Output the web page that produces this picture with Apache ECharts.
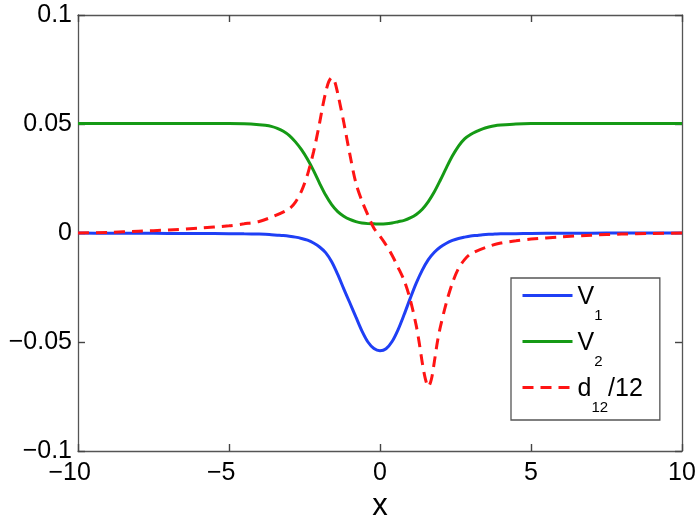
<!DOCTYPE html>
<html>
<head>
<meta charset="utf-8">
<script src="https://cdn.jsdelivr.net/npm/echarts@6/dist/echarts.min.js"></script>
<style>
html,body{margin:0;padding:0;background:#fff;}
#chart{width:700px;height:520px;}
</style>
</head>
<body>
<div id="chart"></div>
<script>
// Shared x grid for V1 and V2
var xGrid = [-10,-9,-8,-7,-6,-5,-4.5,
  -4,-3.8,-3.6,-3.4,-3.2,-3,-2.8,-2.6,-2.4,-2.2,-2,-1.8,-1.6,-1.4,-1.2,-1,-0.8,-0.6,-0.4,-0.2,
  0,0.2,0.4,0.6,0.8,1,1.2,1.4,1.6,1.8,2,2.2,2.4,2.6,2.8,3,3.2,3.4,3.6,3.8,4,
  4.5,5,6,7,8,9,10];
var v1 = [0,-0.0001,-0.0001,-0.0002,-0.0002,-0.0003,-0.0004,
  -0.0005,-0.0006,-0.0008,-0.0010,-0.0012,-0.0015,-0.0019,-0.0025,-0.0033,-0.0046,-0.0064,-0.0090,-0.0132,-0.0190,-0.0256,-0.0320,-0.0385,-0.0449,-0.0500,-0.0530,
  -0.0540,-0.0531,-0.0498,-0.0443,-0.0374,-0.0300,-0.0230,-0.0170,-0.0122,-0.0088,-0.0064,-0.0047,-0.0034,-0.0025,-0.0019,-0.0014,-0.0011,-0.0008,-0.0006,-0.0005,-0.0004,
  -0.0003,-0.0002,-0.0001,-0.0001,0,0,0];
var v2 = [0.0502,0.0502,0.0502,0.0502,0.0502,0.0502,0.0501,
  0.0497,0.0494,0.0489,0.0480,0.0467,0.0447,0.0418,0.0382,0.0338,0.0286,0.0228,0.0174,0.0130,0.0098,0.0077,0.0062,0.0052,0.0046,0.0043,0.0042,
  0.0041,0.0042,0.0046,0.0052,0.0058,0.0069,0.0085,0.0109,0.0144,0.0189,0.0243,0.0300,0.0354,0.0399,0.0432,0.0452,0.0466,0.0478,0.0486,0.0492,0.0495,
  0.0500,0.0502,0.0502,0.0502,0.0502,0.0502,0.0502];
// d12/12 on its own x grid
var dX = [-10,-9,-8,-7,-6,-5,-4.5,-4,-3.5,-3,-2.8,-2.6,-2.4,-2.2,-2.0,-1.9,-1.8,-1.7,-1.6,-1.5,-1.4,-1.3,-1.2,-1.0,-0.8,-0.6,-0.4,-0.2,0,0.2,0.4,0.6,0.8,1.0,1.2,1.3,1.4,1.5,1.6,1.7,1.8,1.9,2.0,2.2,2.4,2.6,2.8,3.0,3.5,4,4.5,5,6,7,8,9,10];
var d12 = [0,0.0003,0.0008,0.0014,0.0022,0.0033,0.0042,0.0053,0.0078,0.0112,0.0142,0.0192,0.0268,0.0372,0.0505,0.0580,0.0645,0.0693,0.0713,0.0695,0.0640,0.0575,0.0508,0.0362,0.0230,0.0148,0.0082,0.0022,-0.0015,-0.0055,-0.0102,-0.0158,-0.0218,-0.0305,-0.0425,-0.0505,-0.0595,-0.0668,-0.0705,-0.0672,-0.0590,-0.0500,-0.0430,-0.0318,-0.0228,-0.0162,-0.0122,-0.0096,-0.0066,-0.0046,-0.0036,-0.0028,-0.0018,-0.0010,-0.0005,-0.0002,0];

var seriesNames = ['V1', 'V2', 'd12'];
var legendLabels = {
  V1: '{m|V}{s|1}',
  V2: '{m|V}{s|2}',
  d12: '{m|d}{s|12}{m|/12}'
};

function pairs(xs, ys) { return xs.map(function (x, i) { return [x, ys[i]]; }); }
function fmt(v) {
  var r = Math.round(v * 1000) / 1000;
  return String(r).replace('-', '\u2212');
}
// negative x labels: digits centred on the tick, minus hanging to the left
function fmtX(v) {
  var s = fmt(v);
  if (v < 0) return '{n' + s.length + '|' + s + '}';
  return s;
}

var FONT = '"Liberation Sans", Arial, Helvetica, sans-serif';
var AX = '#555555';

var chart = echarts.init(document.getElementById('chart'), null, {renderer: 'canvas'});
function axisCommon() {
  return {
    axisLine: {show: true, onZero: false, lineStyle: {color: AX, width: 1.3}},
    axisTick: {show: true, inside: true, length: 7, lineStyle: {color: '#444444', width: 1.4}},
    splitLine: {show: false}
  };
}
chart.setOption({
  animation: false,
  backgroundColor: '#ffffff',
  grid: {left: 78, right: 18, top: 15, bottom: 69, containLabel: false, outerBoundsMode: 'none'},
  xAxis: [
    Object.assign({
      type: 'value', min: -10, max: 10, interval: 5, position: 'bottom',
      name: 'x', nameLocation: 'middle', nameGap: 39,
      nameTextStyle: {fontSize: 31, color: '#000', fontFamily: FONT},
      axisLabel: {fontSize: 25, color: '#000', fontFamily: FONT, margin: 10, formatter: fmtX,
        rich: {
          n2: {fontSize: 25, color: '#000', fontFamily: FONT, width: 44, align: 'left'},
          n3: {fontSize: 25, color: '#000', fontFamily: FONT, width: 59, align: 'left'}
        }}
    }, axisCommon()),
    Object.assign({
      type: 'value', min: -10, max: 10, interval: 5, position: 'top',
      axisLabel: {show: false}
    }, axisCommon())
  ],
  yAxis: [
    Object.assign({
      type: 'value', min: -0.1, max: 0.1, interval: 0.05, position: 'left',
      name: 'E', nameLocation: 'middle', nameGap: 55,
      nameTextStyle: {fontSize: 31, color: '#000', fontFamily: FONT},
      axisLabel: {fontSize: 25, color: '#000', fontFamily: FONT, margin: 6, formatter: fmt}
    }, axisCommon()),
    Object.assign({
      type: 'value', min: -0.1, max: 0.1, interval: 0.05, position: 'right',
      axisLabel: {show: false}
    }, axisCommon())
  ],
  legend: {
    data: seriesNames,
    orient: 'vertical',
    left: 511, top: 278,
    padding: [5, 17, 5, 10],
    itemGap: 6,
    itemWidth: 50, itemHeight: 3,
    borderColor: AX, borderWidth: 1.3, borderRadius: 0,
    backgroundColor: '#ffffff',
    itemStyle: {opacity: 0},
    lineStyle: {width: 3},
    formatter: function (name) { return legendLabels[name]; },
    textStyle: {
      fontFamily: FONT, color: '#000',
      rich: {
        m: {fontSize: 25, fontFamily: FONT, color: '#000', lineHeight: 25, padding: [2, 0, 0, 0], verticalAlign: 'top'},
        s: {fontSize: 15, fontFamily: FONT, color: '#000', lineHeight: 14, padding: [25, 0, 0, 0], verticalAlign: 'top'}
      }
    }
  },
  series: [
    {name: 'V1', type: 'line', data: pairs(xGrid, v1), smooth: 0.3, symbol: 'none',
     lineStyle: {color: '#1f3ff5', width: 3}, itemStyle: {color: '#1f3ff5'}},
    {name: 'V2', type: 'line', data: pairs(xGrid, v2), smooth: 0.3, symbol: 'none',
     lineStyle: {color: '#159a15', width: 3}, itemStyle: {color: '#159a15'}},
    {name: 'd12', type: 'line', data: pairs(dX, d12), smooth: 0.3, symbol: 'none',
     lineStyle: {color: '#ff1414', width: 3, type: [11, 7]}, itemStyle: {color: '#ff1414'}}
  ]
});
</script>
</body>
</html>
